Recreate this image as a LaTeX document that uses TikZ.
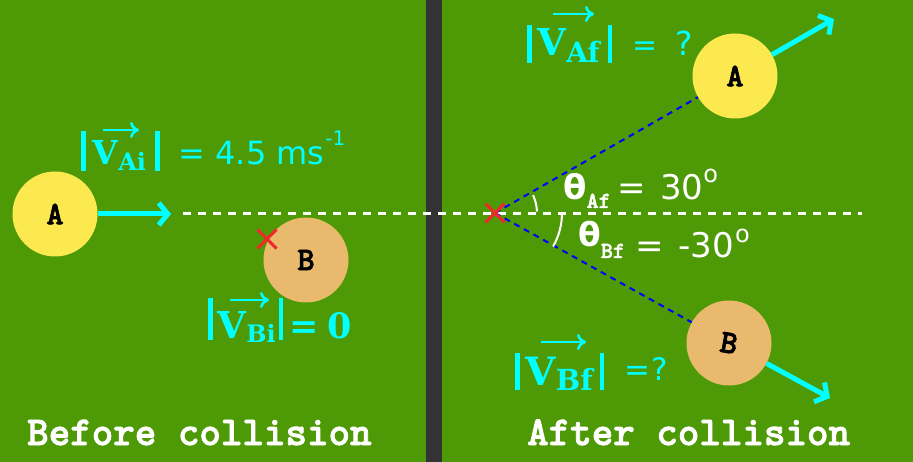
\documentclass[tikz,border=0pt]{standalone}
\usepackage{fontspec}
\usepackage{graphicx}
\newfontfamily\sansf{DejaVu Sans}
\newfontfamily\sansbf{DejaVu Sans Bold}
\newfontfamily\vfont{DejaVu Serif Bold}
\newfontfamily\monob{lmmonolt10-bold.otf}[FakeBold=2]
\usetikzlibrary{arrows.meta,positioning,shapes.misc}

\definecolor{field}{HTML}{4E9A06}
\definecolor{wall}{HTML}{333333}
\definecolor{ballA}{HTML}{FCE94F}
\definecolor{ballB}{HTML}{E9B96E}
\definecolor{hit}{HTML}{EF2929}
\definecolor{velo}{HTML}{00FFFF}

\newcommand\fs[1]{\fontsize{#1}{#1}\selectfont}
% magnitude bar: depth, height
\newcommand\mbar[2]{\rule[-#1]{4.5pt}{#2}}

\begin{document}
\begin{tikzpicture}[x=1pt,y=-1pt,
    ball/.style={circle,minimum size=85pt,inner sep=0pt,
      font=\monob\fs{33}},
    velarrow/.style={draw=velo,line width=5pt,
      -{Straight Barb[length=9pt,width=22pt]}},
    vecarrow/.style={draw=velo,line width=2.6pt,
      -{Computer Modern Rightarrow[length=9pt,width=16pt]}},
    guide/.style={white,line width=3pt,dash pattern=on 8pt off 7pt},
    track/.style={blue,line width=2pt,dash pattern=on 6pt off 5pt},
    anglearc/.style={white,line width=2pt},
    hitmark/.style={cross out,draw=hit,line width=3pt,minimum size=16pt,inner sep=0pt},
    caption/.style={white,anchor=base west,inner sep=0pt,
      font=\monob\fs{41}},
    vlabel/.style={velo,anchor=base west,inner sep=0pt},
    thlabel/.style={white,anchor=base west,inner sep=0pt}
  ]

  % field and wall
  \fill[field] (0,0) rectangle (913,462);
  \fill[wall] (426,0) rectangle (442,462);

  % Before collision
  \node[ball,fill=ballA] (Ai) at (55,214) {A};
  \node[ball,fill=ballB] (Bi) at (306,260) {B};
  \coordinate (tipAi) at (171,214);
  \draw[velarrow] (Ai) -- (tipAi);
  \node[hitmark] (hitL) at (267,239) {};

  % line of impact
  \coordinate (lineL) at (183,214);
  \coordinate (lineR) at (862,214);
  \draw[guide] (lineL) -- (lineR);

  % After collision
  \coordinate (impact) at (495,213);
  \node[ball,fill=ballA] (Af) at (735,76) {A};
  \node[ball,fill=ballB] (Bf) at (729,343) {\rotatebox{-10}{B}};
  \draw[track] (impact) -- (Af);
  \draw[track] (impact) -- (Bf);
  \node[hitmark] (hitR) at (impact) {};
  \coordinate (tipAf) at (834,19);
  \coordinate (tipBf) at (830,398);
  \draw[velarrow] (Af) -- (tipAf);
  \draw[velarrow] (Bf) -- (tipBf);

  % angles
  \draw[anglearc] ([shift={(-2:42)}]impact) arc[start angle=-2,end angle=-25,radius=42];
  \draw[anglearc] ([shift={(0:67)}]impact) arc[start angle=0,end angle=30,radius=67];

  % velocities
  \node[vlabel] (vAi) at (81,165)
    {\mbar{6pt}{40pt}\hspace{7pt}{\vfont\fs{33}V}\lower6pt\hbox{\vfont\fs{24}Ai}%
     \hspace{9pt}\mbar{6pt}{40pt}\hspace{19pt}%
     {\sansf\fs{32}= 4.5 ms\hspace{1pt}\raisebox{19pt}{\fs{20}-1}}};
  \draw[vecarrow] ([shift={(22,-35)}]vAi.base west) -- ++(36,0);

  \node[vlabel] (vBi) at (208,338)
    {\mbar{2pt}{42pt}\hspace{5pt}{\vfont\fs{37}V}\lower4pt\hbox{\vfont\fs{24}Bi}%
     \hspace{3pt}\mbar{2pt}{42pt}\hspace{6pt}%
     {\vfont\fs{35}=\hspace{9pt}0}};
  \draw[vecarrow] ([shift={(22,-38)}]vBi.base west) -- ++(39,0);

  \node[vlabel] (vAf) at (527,56)
    {\mbar{7pt}{38pt}\hspace{6pt}{\vfont\fs{37}V}\lower7pt\hbox{\vfont\fs{28}Af}%
     \hspace{8pt}\mbar{7pt}{38pt}\hspace{20pt}%
     {\sansf\fs{30}=\hspace{18pt}{\fs{33}?}}};
  \draw[vecarrow] ([shift={(26,-42)}]vAf.base west) -- ++(41,0);

  \node[vlabel] (vBf) at (515,385)
    {\mbar{5pt}{37pt}\hspace{6pt}{\vfont\fs{39}V}\lower5pt\hbox{\vfont\fs{29}Bf}%
     \hspace{7pt}\mbar{5pt}{37pt}\hspace{20pt}%
     \raisebox{5pt}{\sansf\fs{31}=\hspace{1pt}?}};
  \draw[vecarrow] ([shift={(26,-43)}]vBf.base west) -- ++(45,0);

  % angle values
  \node[thlabel] (thAf) at (563,200)
    {{\sansbf\fs{34}θ}\lower8pt\hbox{\monob\fs{23}Af}\hspace{7pt}%
     {\sansf\fs{34}=\hspace{14pt}30\raisebox{17pt}{\fs{24}o}}};
  \node[thlabel] (thBf) at (578,258)
    {\raisebox{11pt}{\sansbf\fs{33}θ}{\monob\fs{23}Bf}\hspace{10pt}%
     {\sansf\fs{34}=\hspace{15pt}-30\hspace{1pt}\raisebox{15pt}{\fs{24}o}}};

  % captions
  \node[caption] (before) at (27,445) {Before collision};
  \node[caption] (after) at (527,445) {After collision};
\end{tikzpicture}
\end{document}
